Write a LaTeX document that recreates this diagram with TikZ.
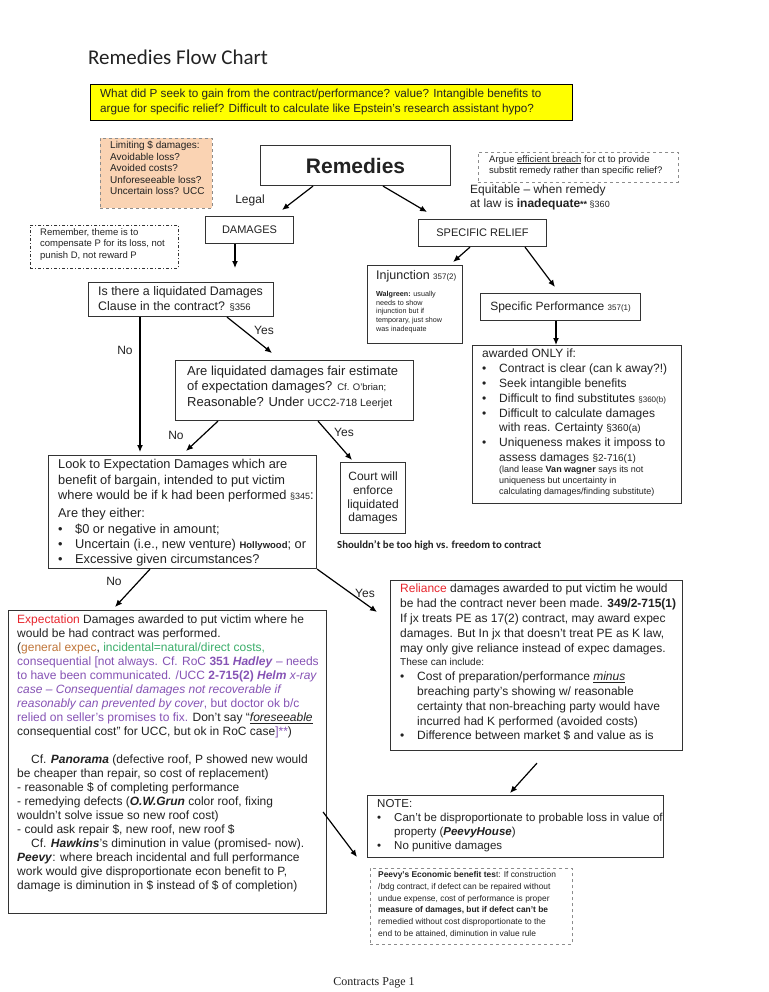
\documentclass[tikz,border=0pt]{standalone}
\usepackage{fontspec}
\setmainfont{Liberation Sans}
\newfontfamily\carlito{Carlito}
\newfontfamily\serifft{Liberation Serif}
\usetikzlibrary{arrows.meta}
\definecolor{boxc}{HTML}{333333}
\definecolor{txtc}{HTML}{222222}
\definecolor{peach}{HTML}{FAD3B3}
\definecolor{dgray}{HTML}{8C8C8C}
\definecolor{xred}{HTML}{E8262D}
\definecolor{xbrown}{HTML}{C0763A}
\definecolor{xgreen}{HTML}{3BAE6A}
\definecolor{xpurple}{HTML}{8653B5}
\definecolor{yel}{HTML}{FFFF00}
\newcommand{\mybul}{\makebox[17pt][l]{•}}
\newcommand{\myind}{\hspace*{17pt}}
\begin{document}
\begin{tikzpicture}[x=1pt,y=-1pt,
  bx/.style={draw=boxc, line width=1.1pt, fill=white, inner sep=0pt, anchor=north west, text=txtc},
  dbx/.style={draw=dgray, dashed, line width=0.9pt, inner sep=0pt, anchor=north west},
  tx/.style={anchor=north west, align=left, inner sep=0pt, text=txtc, font=\fontsize{12}{14.8}\selectfont},
  arr/.style={-{Latex[length=7pt,width=6pt]}, line width=1.2pt, draw=black},
  lab/.style={inner sep=0pt, text=txtc, font=\fontsize{12}{14}\selectfont}]
\useasboundingbox (0,0) rectangle (768,992);
\fill[white] (0,0) rectangle (768,992);

% title
\node[anchor=base west, inner sep=0pt, text=txtc, font=\carlito\fontsize{21}{25}\selectfont] (title) at (88,65) {Remedies Flow Chart};

% yellow question box
\node[bx, draw=black, fill=yel, minimum width=482pt, minimum height=36pt] (q) at (90,84) {};
\node[tx, font=\fontsize{11.7}{15}\selectfont] (qT) at (100,89) {What did P seek to gain from the contract/performance? value? Intangible benefits to\\argue for specific relief? Difficult to calculate like Epstein’s research assistant hypo?};

% limiting damages
\node[dbx, fill=peach, minimum width=112pt, minimum height=70pt] (lim) at (100,138) {};
\node[tx, font=\fontsize{10}{11.5}\selectfont] (limT) at (110,141) {Limiting \$ damages:\\Avoidable loss?\\Avoided costs?\\Unforeseeable loss?\\Uncertain loss? UCC};

% remedies
\node[bx, minimum width=190pt, minimum height=40pt, font=\bfseries\fontsize{21}{24}\selectfont] (remedies) at (260,145) {Remedies};

% argue efficient breach
\node[dbx, minimum width=200pt, minimum height=30pt] (argue) at (478,152) {};
\node[tx, font=\fontsize{9.5}{11}\selectfont] (argueT) at (489,155) {Argue \underline{efficient breach} for ct to provide\\substit remedy rather than specific relief?};

% equitable text
\node[tx, font=\fontsize{12}{14.5}\selectfont] (equit) at (470,184.5) {Equitable – when remedy\\at law is \textbf{inadequate}{\fontsize{9}{10}\selectfont\textbf{**} §360}};

\node[lab] (legal) at (250,200) {Legal};

% damages / specific relief
\node[bx, minimum width=88pt, minimum height=27pt, font=\fontsize{11}{13}\selectfont] (damages) at (205,216) {DAMAGES};
\node[bx, minimum width=128pt, minimum height=27pt, font=\fontsize{11}{13}\selectfont] (specrel) at (418,219) {SPECIFIC RELIEF};

% remember
\node[draw=boxc, dash pattern=on 3pt off 2pt on 1pt off 2pt, line width=0.9pt, inner sep=0pt, anchor=north west, minimum width=148pt, minimum height=43pt] (remember) at (30,225) {};
\node[tx, font=\fontsize{9.5}{11.5}\selectfont] (rememberT) at (40,228) {Remember, theme is to\\compensate P for its loss, not\\punish D, not reward P};

% injunction
\node[bx, minimum width=95pt, minimum height=78pt] (inj) at (367,265) {};
\node[tx, font=\fontsize{12.5}{14}\selectfont] (injT) at (376,270) {Injunction {\fontsize{8}{9}\selectfont 357(2)}};
\node[tx, font=\fontsize{7.2}{8.7}\selectfont] (injS) at (376,291) {\textbf{Walgreen:} usually\\needs to show\\injunction but if\\temporary, just show\\was inadequate};

% liquidated damages clause
\node[bx, minimum width=185pt, minimum height=34pt] (liq) at (88,282) {};
\node[tx, font=\fontsize{12.4}{15}\selectfont] (liqT) at (98,286) {Is there a liquidated Damages\\Clause in the contract? {\fontsize{9.5}{11}\selectfont §356}};

% specific performance
\node[bx, minimum width=160pt, minimum height=27pt, font=\fontsize{12}{14}\selectfont] (specperf) at (480,293) {Specific Performance {\fontsize{8}{9}\selectfont 357(1)}};

% awarded only if
\node[bx, minimum width=209pt, minimum height=158pt] (awarded) at (472,345) {};
\node[tx] (awardedT) at (482,349) {awarded ONLY if:\\
\mybul Contract is clear (can k away?!)\\
\mybul Seek intangible benefits\\
\mybul Difficult to find substitutes {\fontsize{8}{9}\selectfont §360(b)}\\
\mybul Difficult to calculate damages\\
\myind with reas. Certainty {\fontsize{10}{11}\selectfont §360(a)}\\
\mybul Uniqueness makes it imposs to\\
\myind assess damages {\fontsize{10}{11}\selectfont §2-716(1)}\\[-3.5pt]
\myind{\fontsize{9}{11}\selectfont (land lease \textbf{Van wagner} says its not}\\[-3.8pt]
\myind{\fontsize{9}{11}\selectfont uniqueness but uncertainty in}\\[-3.8pt]
\myind{\fontsize{9}{11}\selectfont calculating damages/finding substitute)}};

% are liquidated damages fair
\node[bx, minimum width=238pt, minimum height=60pt] (are) at (175,360) {};
\node[tx, font=\fontsize{13}{15.5}\selectfont] (areT) at (187,365.5) {Are liquidated damages fair estimate\\of expectation damages? {\fontsize{9.5}{11}\selectfont Cf. O’brian;}\\Reasonable? Under {\fontsize{10.5}{11}\selectfont UCC2-718 Leerjet}};

% court will enforce
\node[bx, minimum width=65pt, minimum height=71pt, align=center, font=\fontsize{12}{13.8}\selectfont] (court) at (340,462) {Court will\\enforce\\liquidated\\damages};
\node[anchor=west, inner sep=0pt, text=txtc, font=\carlito\bfseries\fontsize{10.8}{12}\selectfont] (shouldnt) at (337,545) {Shouldn’t be too high vs. freedom to contract};

% look to expectation
\node[bx, minimum width=268pt, minimum height=113pt] (look) at (48,455) {};
\node[tx, font=\fontsize{12.8}{15.3}\selectfont] (lookT) at (58,459.5) {Look to Expectation Damages which are\\
benefit of bargain, intended to put victim\\
where would be if k had been performed {\fontsize{9}{11}\selectfont §345}:\\[3pt]
Are they either:\\
\mybul \$0 or negative in amount;\\
\mybul Uncertain (i.e., new venture) {\fontsize{9.5}{11}\selectfont\textbf{Hollywood}}; or\\
\mybul Excessive given circumstances?};

% expectation damages
\node[bx, minimum width=318pt, minimum height=303pt] (exp) at (8,610) {};
\node[tx, font=\fontsize{12}{14}\selectfont] (expT) at (17,615) {{\color{xred}Expectation} Damages awarded to put victim where he\\
would be had contract was performed.\\
({\color{xbrown}general expec}, {\color{xgreen}incidental=natural/direct costs,}\\
{\color{xpurple}consequential [not always. Cf. RoC \textbf{351} \textbf{\textit{Hadley}} – needs}\\
{\color{xpurple}to have been communicated. /UCC \textbf{2-715(2)} \textbf{\textit{Helm}} \textit{x-ray}}\\
{\color{xpurple}\textit{case – Consequential damages not recoverable if}}\\
{\color{xpurple}\textit{reasonably can prevented by cover}, but doctor ok b/c}\\
{\color{xpurple}relied on seller’s promises to fix.} Don’t say “\underline{\textit{foreseeable}}\\
consequential cost” for UCC, but ok in RoC case{\color{xpurple}]**})\\[14pt]
\hspace*{14pt}Cf. \textbf{\textit{Panorama}} (defective roof, P showed new would\\
be cheaper than repair, so cost of replacement)\\
- reasonable \$ of completing performance\\
- remedying defects (\textbf{\textit{O.W.Grun}} color roof, fixing\\
wouldn’t solve issue so new roof cost)\\
- could ask repair \$, new roof, new roof \$\\
\hspace*{14pt}Cf. \textbf{\textit{Hawkins}}’s diminution in value (promised- now).\\
\textbf{\textit{Peevy}}: where breach incidental and full performance\\
work would give disproportionate econ benefit to P,\\
damage is diminution in \$ instead of \$ of completion)};

% reliance
\node[bx, minimum width=292pt, minimum height=170pt] (rel) at (390,580) {};
\node[tx, font=\fontsize{12}{14.8}\selectfont] (relT) at (400,584) {{\color{xred}Reliance} damages awarded to put victim he would\\
be had the contract never been made. \textbf{349/2-715(1)}\\
If jx treats PE as 17(2) contract, may award expec\\
damages. But In jx that doesn’t treat PE as K law,\\
may only give reliance instead of expec damages.\\[-1pt]
{\fontsize{10}{12}\selectfont These can include:}\\
\mybul Cost of preparation/performance \underline{\textit{minus}}\\
\myind breaching party’s showing w/ reasonable\\
\myind certainty that non-breaching party would have\\
\myind incurred had K performed (avoided costs)\\
\mybul Difference between market \$ and value as is};

% note
\node[bx, minimum width=296pt, minimum height=62pt] (note) at (367,795) {};
\node[tx, font=\fontsize{11.5}{14.2}\selectfont] (noteT) at (377,799) {NOTE:\\
\mybul Can’t be disproportionate to probable loss in value of\\
\myind property (\textbf{\textit{PeevyHouse}})\\
\mybul No punitive damages};

% peevy economic benefit test
\node[dbx, minimum width=202pt, minimum height=76pt] (peevy) at (370,868) {};
\node[tx, font=\fontsize{8.4}{11.7}\selectfont] (peevyT) at (378,871.5) {\textbf{Peevy’s Economic benefit tes}t: If construction\\
/bdg contract, if defect can be repaired without\\
undue expense, cost of performance is proper\\
\textbf{measure of damages, but if defect can’t be}\\
remedied without cost disproportionate to the\\
end to be attained, diminution in value rule};

% footer
\node[inner sep=0pt, text=txtc, font=\serifft\fontsize{12}{14}\selectfont] (footer) at (374,983) {Contracts Page 1};

% connectors
\draw[arr] ([shift={(53,0)}]remedies.south west) -- ([shift={(77,-6)}]damages.north west);
\draw[arr] ([shift={(123,0)}]remedies.south west) -- ([shift={(9,-7)}]specrel.north west);
\draw[arr] ([shift={(30,0)}]damages.south west) -- ([shift={(147,-14)}]liq.north west);
\draw[arr] ([shift={(52,0)}]specrel.south west) -- ([shift={(-10,-3)}]inj.north east);
\draw[arr] ([shift={(107,0)}]specrel.south west) -- ([shift={(75,-6)}]specperf.north west);
\draw[arr] ([shift={(76,0)}]specperf.south west) -- ([shift={(84,0)}]awarded.north west);
\draw[arr] ([shift={(139,0)}]liq.south west) -- ([shift={(97,-7)}]are.north west);
\draw[arr] ([shift={(52,0)}]liq.south west) -- ([shift={(92,-3)}]look.north west);
\draw[arr] ([shift={(43,0)}]are.south west) -- ([shift={(138,-4)}]look.north west);
\draw[arr] ([shift={(143,0)}]are.south west) -- ([shift={(12,-2)}]court.north west);
\draw[arr] ([shift={(102,0)}]look.south west) -- ([shift={(107,-3)}]exp.north west);
\draw[arr] (look.south east) -- ([shift={(-13,32)}]rel.north west);
\draw[arr] ([shift={(147,12)}]rel.south west) -- ([shift={(143,-2)}]note.north west);
\draw[arr] ([shift={(-4,202)}]exp.north east) -- ([shift={(-13,-11)}]peevy.north west);

% connector labels
\node[lab] (yes1) at (264,330) {Yes};
\node[lab] (no1) at (125,350) {No};
\node[lab] (no2) at (176,435) {No};
\node[lab] (yes2) at (344,432) {Yes};
\node[lab] (no3) at (114,581) {No};
\node[lab] (yes3) at (365,593) {Yes};
\end{tikzpicture}
\end{document}
